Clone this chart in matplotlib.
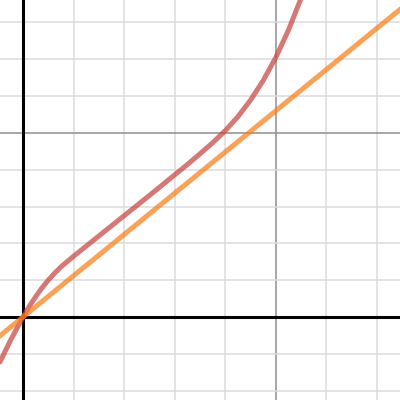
import numpy as np
import matplotlib
matplotlib.use("Agg")
import matplotlib.pyplot as plt
from matplotlib.ticker import MultipleLocator

# curva roja (unidades = cuadritos de la grilla)
red_x = [-0.455, -0.25, 0.0, 0.125, 0.25, 0.375, 0.5, 0.625, 0.75, 1.0, 1.5, 2.0,
         2.5, 3.0, 3.25, 3.5, 3.75, 4.0, 4.25, 4.5, 4.75, 5.0, 5.25, 5.5, 5.65]
red_y = [-1.22, -0.64, 0.0, 0.29, 0.55, 0.79, 1.00, 1.19, 1.36, 1.65, 2.20, 2.75,
         3.30, 3.86, 4.14, 4.43, 4.73, 5.06, 5.44, 5.89, 6.42, 7.05, 7.79, 8.66, 9.26]

# recta naranja
orange_x = [-0.5, 7.5]
orange_y = [-0.56, 8.40]

fig = plt.figure(figsize=(4, 4), dpi=100)
ax = fig.add_axes([0, 0, 1, 1])

ax.set_xlim(-0.455, 7.455)
ax.set_ylim(-2.254, 8.607)

# grilla
ax.xaxis.set_major_locator(MultipleLocator(5))
ax.yaxis.set_major_locator(MultipleLocator(5))
ax.xaxis.set_minor_locator(MultipleLocator(1))
ax.yaxis.set_minor_locator(MultipleLocator(1))
ax.grid(which='major', color='#8e8e8e', linewidth=1.1)
ax.grid(which='minor', color='#dcdcdc', linewidth=1.1)
ax.set_axisbelow(True)
ax.tick_params(which='both', length=0, labelbottom=False, labelleft=False)
for s in ax.spines.values():
    s.set_visible(False)

# ejes
ax.axhline(0, color='black', linewidth=2.2, zorder=2)
ax.axvline(0, color='black', linewidth=2.2, zorder=2)

# graficas
ax.plot(red_x, red_y, color='#c74440', alpha=0.72, linewidth=3.6,
        solid_capstyle='round', solid_joinstyle='round', zorder=3)
ax.plot(orange_x, orange_y, color='#fa7e19', alpha=0.72, linewidth=3.6,
        solid_capstyle='round', zorder=4)

fig.savefig("out.png", dpi=100)
